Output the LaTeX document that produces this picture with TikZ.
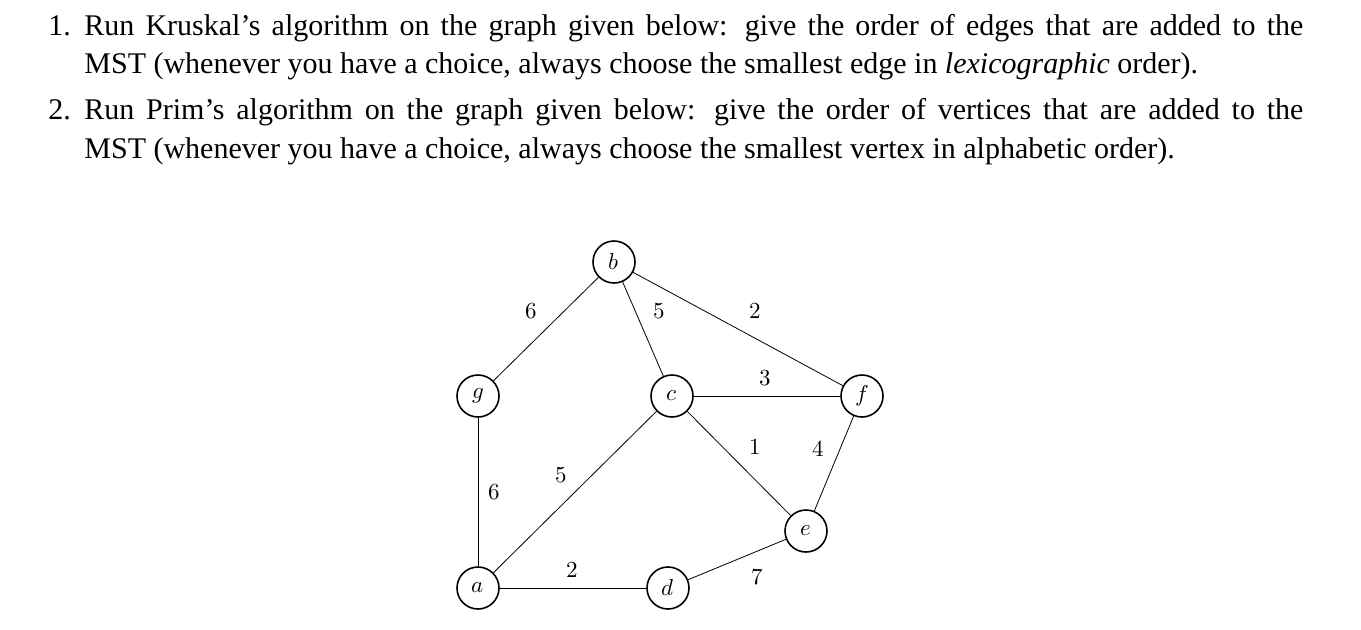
\documentclass[tikz,border=0pt]{standalone}
\usepackage{fontspec}
\setmainfont{Liberation Serif}
\usepackage{unicode-math}
\setmathfont{Latin Modern Math}
\begin{document}
\begin{tikzpicture}[x=0.5pt,y=-0.5pt,
  vert/.style={circle,draw,thick,minimum size=21pt,inner sep=0pt,font=\fontsize{11.5}{12}\selectfont},
  wl/.style={font=\fontsize{11.5}{12}\selectfont},
  txt/.style={anchor=base west,inner sep=0pt,font=\fontsize{15}{19.5}\selectfont}]
\useasboundingbox (0,0) rectangle (1361,629);
\node[txt] (n1) at (48,35) {1.};
\node[txt] (l1) at (84,35) {\makebox[609.5pt][s]{Run Kruskal’s algorithm on the graph given below: give the order of edges that are added to the}};
\node[txt] (l2) at (84,73) {MST (whenever you have a choice, always choose the smallest edge in \textit{lexicographic} order).};
\node[txt] (n2) at (48,119) {2.};
\node[txt] (l3) at (84,119) {\makebox[609.5pt][s]{Run Prim’s algorithm on the graph given below: give the order of vertices that are added to the}};
\node[txt] (l4) at (84,158) {MST (whenever you have a choice, always choose the smallest vertex in alphabetic order).};
\node[vert] (b) at (614,262) {$b$};
\node[vert] (g) at (478,396) {$g$};
\node[vert] (c) at (672,396) {$c$};
\node[vert] (f) at (862,396) {$f$};
\node[vert] (e) at (806,531) {$e$};
\node[vert] (a) at (478,588) {$a$};
\node[vert] (d) at (668,588) {$d$};
\draw (g) -- (b); \draw (b) -- (c); \draw (b) -- (f); \draw (c) -- (f);
\draw (c) -- (e); \draw (f) -- (e); \draw (c) -- (a); \draw (g) -- (a);
\draw (a) -- (d); \draw (d) -- (e);
\node[wl] (w1) at (531,311) {$6$};
\node[wl] (w2) at (659,311) {$5$};
\node[wl] (w3) at (755,311) {$2$};
\node[wl] (w4) at (765,378) {$3$};
\node[wl] (w5) at (755,447) {$1$};
\node[wl] (w6) at (818,449) {$4$};
\node[wl] (w7) at (561,475) {$5$};
\node[wl] (w8) at (494,492) {$6$};
\node[wl] (w9) at (572,570) {$2$};
\node[wl] (w10) at (757,577) {$7$};
\end{tikzpicture}
\end{document}
